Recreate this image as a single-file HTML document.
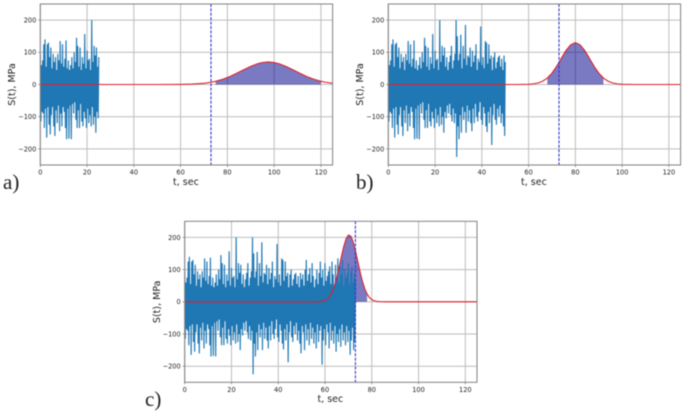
<!DOCTYPE html>
<html>
<head>
<meta charset="utf-8">
<style>
html,body{margin:0;padding:0;background:#fff;width:685px;height:413px;overflow:hidden}
svg{display:block;filter:blur(0.45px)}
text{font-family:"DejaVu Sans","Liberation Sans",sans-serif}
.letter{font-family:"Liberation Serif",serif;font-size:21px;fill:#222}
</style>
</head>
<body>
<svg id="fig" xmlns="http://www.w3.org/2000/svg" width="685" height="413" viewBox="0 0 685 413"></svg>
<script>
const xTickLabels = [0, 20, 40, 60, 80, 100, 120];
const yTickLabels = [-200, -100, 0, 100, 200];
const xDomain = [0, 125];
const yDomain = [-250, 250];
const thresholdTime = 73;

// Signal peaks, one pair every 0.5 s (same record in all panels)
const signalHigh = [
95,60,75,125,140,55,125,130,85,115,50,95,
70,85,45,95,75,135,65,125,55,80,137,50,
75,45,60,85,50,100,70,145,120,55,115,45,
85,65,157,50,105,75,80,45,200,70,120,90,
115,55,85,45,70,90,120,50,75,95,200,150,
75,95,155,50,120,80,185,60,90,85,115,55,
105,70,90,125,45,80,70,180,60,85,50,135,
130,65,125,80,90,45,85,100,50,70,85,90,
55,80,45,90,70,85,50,100,130,65,85,105,
60,120,80,45,70,100,55,90,125,75,100,50,
120,65,80,95,110,55,125,85,50,115,75,135,
60,110,85,130,50,100,75,90,120,55,95,110,
60,90,70];
const signalLow = [
-115,-85,-90,-135,-75,-165,-70,-125,-155,-95,-70,-130,
-160,-80,-120,-65,-145,-90,-130,-70,-85,-135,-170,-75,
-168,-65,-170,-60,-90,-55,-110,-135,-80,-135,-60,-115,
-130,-85,-105,-135,-75,-120,-95,-130,-70,-125,-100,-150,
-85,-105,-65,-90,-60,-95,-115,-75,-120,-90,-225,-130,
-170,-95,-150,-70,-110,-85,-150,-65,-115,-80,-120,-145,
-75,-120,-60,-100,-115,-85,-55,-110,-125,-70,-90,-130,
-148,-85,-120,-70,-188,-95,-60,-110,-125,-75,-100,-65,
-120,-90,-130,-160,-75,-95,-150,-70,-120,-85,-135,-65,
-115,-80,-130,-95,-145,-70,-125,-90,-75,-195,-120,-85,
-135,-70,-95,-145,-65,-120,-90,-130,-75,-155,-100,-125,
-85,-140,-70,-120,-95,-135,-75,-125,-90,-165,-120,-80,
-150,-125,-110];

// Pulse curves
const pulseTimesA = [0,50,60,65,70,73,75,78,81,84,87,90,93,95,97.5,100,102,105,108,111,114,117,120,122,125];
const pulseValuesA = [0,0,0.3,1.2,3.8,7,10,16.2,24.5,34.8,45.8,56.4,64.8,68.3,70,68.3,64.8,56.4,45.8,34.8,24.5,16.2,10,7,3.8];
const pulseTimesB = [0,55,60,62,64,66,68,70,72,73,74,76,78,80,82,84,86,88,90,92,94,96,98,100,105,125];
const pulseValuesB = [0,0.04,0.7,1.9,4.7,10.2,20,35.5,56.6,68.8,81.4,105.6,123.4,130,123.4,105.6,81.4,56.6,35.5,20,10.2,4.7,1.9,0.7,0.04,0];
const pulseTimesC = [0,55,58,59,60,61,62,63,64,65,66,67,68,69,70,71,72,73,74,75,76,77,78,79,80,81,82,83,84,86,125];
const pulseValuesC = [0,0,0.85,2,4.3,8.8,16.9,29.9,48.9,74.4,105.8,139.8,171.4,195.5,207.3,204.3,187.2,159.4,126.2,92.9,63.5,40.4,23.9,13.1,6.7,3.2,1.4,0.6,0.2,0,0];

const panelNames = ['a', 'b', 'c'];
const signalEnds = [25, 50, 73];
const shadeStarts = [75, 68, 65];
const shadeEnds = [120, 92, 78];
const pulseTimes = [pulseTimesA, pulseTimesB, pulseTimesC];
const pulseValues = [pulseValuesA, pulseValuesB, pulseValuesC];

// Layout
const frames = [
  {l:40.3, t:4, w:292.3, h:161, lx:3, ly:189, ylx:15, xly:185},
  {l:388.3, t:4, w:292.3, h:161, lx:356, ly:189, ylx:363, xly:185},
  {l:184.7, t:221.3, w:292.3, h:161, lx:145, ly:406, ylx:160, xly:402}
];

const NS = 'http://www.w3.org/2000/svg';
const fig = document.getElementById('fig');
function mk(parent, tag, attrs, txt){
  const e = document.createElementNS(NS, tag);
  for (const k in attrs) e.setAttribute(k, attrs[k]);
  if (txt !== undefined) e.textContent = txt;
  parent.appendChild(e);
  return e;
}

panelNames.forEach((name, idx) => {
  const f = frames[idx];
  const sx = t => f.l + (t - xDomain[0]) / (xDomain[1] - xDomain[0]) * f.w;
  const sy = v => f.t + (yDomain[1] - v) / (yDomain[1] - yDomain[0]) * f.h;
  const g = mk(fig, 'g', {});
  
  

  // clip
  const cp = mk(g, 'clipPath', {id: 'clip-' + name});
  mk(cp, 'rect', {x: f.l, y: f.t, width: f.w, height: f.h});

  // grid + ticks
  xTickLabels.forEach(v => {
    const ln = mk(g, 'line', {x1: sx(v), x2: sx(v), y1: f.t, y2: f.t + f.h, stroke: '#bdbdbd', 'stroke-width': 1});
    
    
    mk(g, 'line', {x1: sx(v), x2: sx(v), y1: f.t + f.h, y2: f.t + f.h + 2, stroke: '#555', 'stroke-width': 0.6});
    const tx = mk(g, 'text', {x: sx(v), y: f.t + f.h + 9.5, 'font-size': 6.6, fill: '#222', 'text-anchor': 'middle'}, String(v));
    
    
  });
  yTickLabels.forEach(v => {
    const ln = mk(g, 'line', {x1: f.l, x2: f.l + f.w, y1: sy(v), y2: sy(v), stroke: '#bdbdbd', 'stroke-width': 1});
    
    
    mk(g, 'line', {x1: f.l - 2, x2: f.l, y1: sy(v), y2: sy(v), stroke: '#555', 'stroke-width': 0.6});
    const tx = mk(g, 'text', {x: f.l - 4, y: sy(v) + 2.4, 'font-size': 6.6, fill: '#222', 'text-anchor': 'end'}, String(v).replace('-', '\u2212'));
    
    
  });

  const plot = mk(g, 'g', {'clip-path': 'url(#clip-' + name + ')'});

  // shaded pulse (sits under the signal)
  const times = pulseTimes[idx], vals = pulseValues[idx];
  const shade = [sx(shadeStarts[idx]).toFixed(2) + ',' + sy(0).toFixed(2)];
  times.forEach((t, i) => {
    if (t >= shadeStarts[idx] && t <= shadeEnds[idx]) shade.push(sx(t).toFixed(2) + ',' + sy(vals[i]).toFixed(2));
  });
  shade.push(sx(shadeEnds[idx]).toFixed(2) + ',' + sy(0).toFixed(2));
  const sh = mk(plot, 'polygon', {points: shade.join(' '), fill: '#00008b', 'fill-opacity': 0.52});
  
  

  // signal
  const pts = [];
  signalHigh.forEach((hi, i) => {
    const t = i * 0.5;
    if (t <= signalEnds[idx]) pts.push(sx(t).toFixed(2) + ',' + sy(hi).toFixed(2));
    if (t + 0.25 <= signalEnds[idx]) pts.push(sx(t + 0.25).toFixed(2) + ',' + sy(signalLow[i]).toFixed(2));
  });
  const sig = mk(plot, 'polyline', {points: pts.join(' '), fill: 'none', stroke: '#1f77b4', 'stroke-width': 1.15, 'stroke-linejoin': 'bevel'});
  
  

  // pulse curve
  const cv = mk(plot, 'polyline', {points: times.map((t, i) => sx(t).toFixed(2) + ',' + sy(vals[i]).toFixed(2)).join(' '), fill: 'none', stroke: '#e0202e', 'stroke-width': 1.1});
  
  

  // threshold
  const th = mk(plot, 'line', {x1: sx(thresholdTime), x2: sx(thresholdTime), y1: f.t, y2: f.t + f.h, stroke: '#3535cc', 'stroke-width': 1.1, 'stroke-dasharray': '3 1.4'});
  
  

  // frame
  const fr = mk(g, 'rect', {x: f.l, y: f.t, width: f.w, height: f.h, fill: 'none', stroke: '#808080', 'stroke-width': 1});
  
  

  // labels
  const xl = mk(g, 'text', {x: f.l + f.w / 2 - 0.5, y: f.xly, 'font-size': 9.5, fill: '#222', 'text-anchor': 'middle'}, 't, sec');
  
  
  const yl = mk(g, 'text', {x: 0, y: 0, 'font-size': 9.5, fill: '#222', 'text-anchor': 'middle', transform: 'translate(' + f.ylx + ',' + (f.t + f.h / 2) + ') rotate(-90)'}, 'S(t), MPa');
  
  
  const lt = mk(g, 'text', {x: f.lx, y: f.ly, class: 'letter'}, name + ')');
  
  
});
</script>
</body>
</html>
